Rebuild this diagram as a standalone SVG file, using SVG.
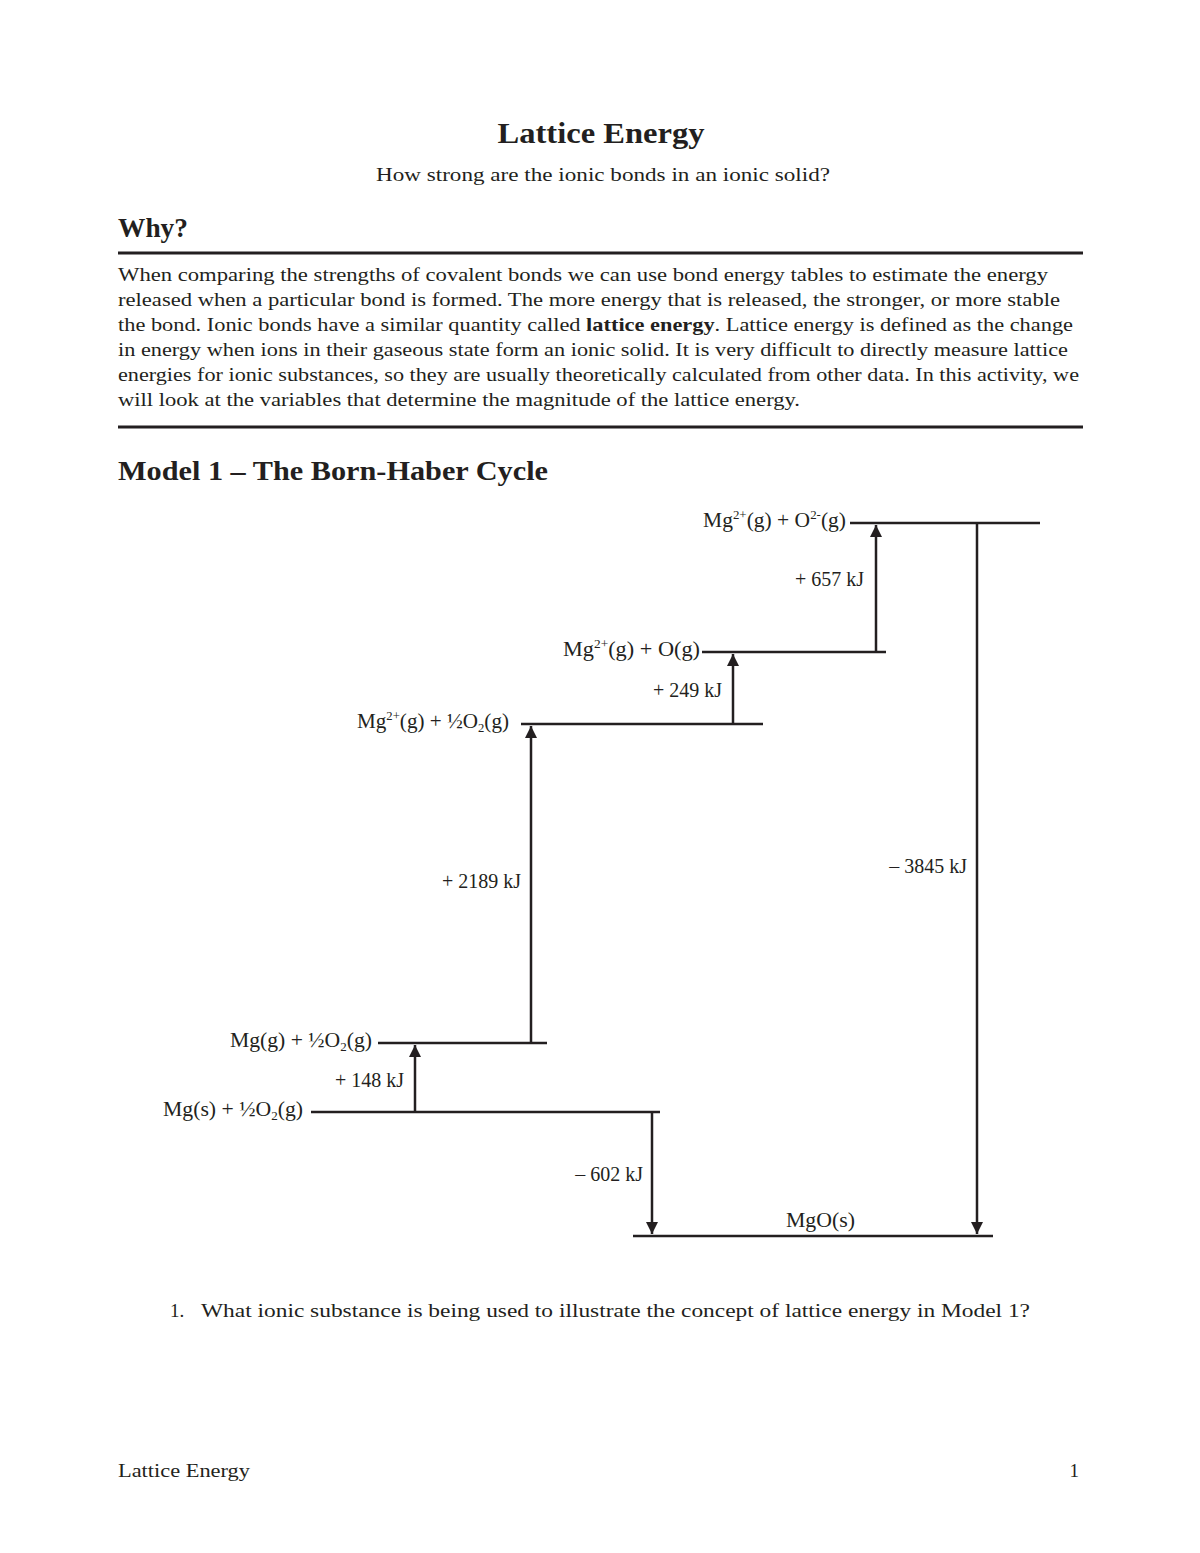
<svg xmlns="http://www.w3.org/2000/svg" width="1200" height="1553" viewBox="0 0 1200 1553">
<defs>
<style>
text{font-family:"Liberation Serif","DejaVu Serif",serif;fill:#231f20}
.title{font-size:30px;font-weight:bold}
.sub{font-size:19px}
.h{font-size:28px;font-weight:bold}
.p{font-size:19px}
.lbl{font-size:20px}
.sm{font-size:12px}
.rule{stroke:#231f20;stroke-width:3}
.lvl{stroke:#231f20;stroke-width:2.5}
.arr{stroke:#231f20;stroke-width:2.5;fill:none}
</style>
<marker id="ah" viewBox="0 0 12 12" refX="12" refY="6" markerWidth="12" markerHeight="12" markerUnits="userSpaceOnUse" orient="auto">
<path d="M0,0 L12,6 L0,12 Z" fill="#231f20"/>
</marker>
</defs>
<rect width="1200" height="1553" fill="#ffffff"/>

<g id="header">
<text class="title" x="601" y="143" text-anchor="middle" textLength="207" lengthAdjust="spacingAndGlyphs">Lattice Energy</text>
<text class="sub" x="603" y="181" text-anchor="middle" textLength="454" lengthAdjust="spacingAndGlyphs">How strong are the ionic bonds in an ionic solid?</text>
<text class="h" x="118" y="237" textLength="70" lengthAdjust="spacingAndGlyphs">Why?</text>
<line class="rule" x1="118" y1="253" x2="1083" y2="253"/>
<text class="p" x="118" y="281" textLength="930" lengthAdjust="spacingAndGlyphs">When comparing the strengths of covalent bonds we can use bond energy tables to estimate the energy</text>
<text class="p" x="118" y="306" textLength="942" lengthAdjust="spacingAndGlyphs">released when a particular bond is formed. The more energy that is released, the stronger, or more stable</text>
<text class="p" x="118" y="331" textLength="955" lengthAdjust="spacingAndGlyphs">the bond. Ionic bonds have a similar quantity called <tspan font-weight="bold">lattice energy</tspan>. Lattice energy is defined as the change</text>
<text class="p" x="118" y="356" textLength="950" lengthAdjust="spacingAndGlyphs">in energy when ions in their gaseous state form an ionic solid. It is very difficult to directly measure lattice</text>
<text class="p" x="118" y="381" textLength="961" lengthAdjust="spacingAndGlyphs">energies for ionic substances, so they are usually theoretically calculated from other data. In this activity, we</text>
<text class="p" x="118" y="406" textLength="682" lengthAdjust="spacingAndGlyphs">will look at the variables that determine the magnitude of the lattice energy.</text>
<line class="rule" x1="118" y1="427" x2="1083" y2="427"/>
<text class="h" x="118" y="480" textLength="430" lengthAdjust="spacingAndGlyphs">Model 1 – The Born-Haber Cycle</text>
</g>

<g id="level-mg2-o2minus">
<line class="lvl" x1="850" y1="523" x2="1040" y2="523"/>
<text class="lbl" x="703" y="527" textLength="143" lengthAdjust="spacingAndGlyphs">Mg<tspan class="sm" dy="-8">2+</tspan><tspan dy="8">(g) + O</tspan><tspan class="sm" dy="-8">2-</tspan><tspan dy="8">(g)</tspan></text>
</g>
<g id="level-mg2-o">
<line class="lvl" x1="702" y1="652" x2="886" y2="652"/>
<text class="lbl" x="563" y="656" textLength="137" lengthAdjust="spacingAndGlyphs">Mg<tspan class="sm" dy="-8">2+</tspan><tspan dy="8">(g) + O(g)</tspan></text>
</g>
<g id="level-mg2-halfo2">
<line class="lvl" x1="521" y1="724" x2="763" y2="724"/>
<text class="lbl" x="357" y="728" textLength="152" lengthAdjust="spacingAndGlyphs">Mg<tspan class="sm" dy="-8">2+</tspan><tspan dy="8">(g) + ½O</tspan><tspan class="sm" dy="4">2</tspan><tspan dy="-4">(g)</tspan></text>
</g>
<g id="level-mgg">
<line class="lvl" x1="378" y1="1043" x2="547" y2="1043"/>
<text class="lbl" x="230" y="1047" textLength="142" lengthAdjust="spacingAndGlyphs">Mg(g) + ½O<tspan class="sm" dy="4">2</tspan><tspan dy="-4">(g)</tspan></text>
</g>
<g id="level-mgs">
<line class="lvl" x1="311" y1="1112" x2="660" y2="1112"/>
<text class="lbl" x="163" y="1116" textLength="140" lengthAdjust="spacingAndGlyphs">Mg(s) + ½O<tspan class="sm" dy="4">2</tspan><tspan dy="-4">(g)</tspan></text>
</g>
<g id="level-mgo">
<line class="lvl" x1="633" y1="1236" x2="993" y2="1236"/>
<text class="lbl" x="786" y="1227" textLength="69" lengthAdjust="spacingAndGlyphs">MgO(s)</text>
</g>

<g id="connectors">
<line class="arr" x1="415" y1="1112" x2="415" y2="1045" marker-end="url(#ah)"/>
<line class="arr" x1="531" y1="1043" x2="531" y2="726" marker-end="url(#ah)"/>
<line class="arr" x1="733" y1="724" x2="733" y2="654" marker-end="url(#ah)"/>
<line class="arr" x1="876" y1="652" x2="876" y2="525" marker-end="url(#ah)"/>
<line class="arr" x1="977" y1="523" x2="977" y2="1234" marker-end="url(#ah)"/>
<line class="arr" x1="652" y1="1112" x2="652" y2="1234" marker-end="url(#ah)"/>
<text class="lbl" x="404" y="1087" text-anchor="end">+ 148 kJ</text>
<text class="lbl" x="521" y="888" text-anchor="end">+ 2189 kJ</text>
<text class="lbl" x="722" y="697" text-anchor="end">+ 249 kJ</text>
<text class="lbl" x="864" y="586" text-anchor="end">+ 657 kJ</text>
<text class="lbl" x="967" y="873" text-anchor="end">– 3845 kJ</text>
<text class="lbl" x="643" y="1181" text-anchor="end">– 602 kJ</text>
</g>

<g id="footer">
<text class="p" x="170" y="1317">1.</text>
<text class="p" x="201" y="1317" textLength="829" lengthAdjust="spacingAndGlyphs">What ionic substance is being used to illustrate the concept of lattice energy in Model 1?</text>
<text class="p" x="118" y="1477" textLength="132" lengthAdjust="spacingAndGlyphs">Lattice Energy</text>
<text class="p" x="1079" y="1477" text-anchor="end">1</text>
</g>
</svg>
